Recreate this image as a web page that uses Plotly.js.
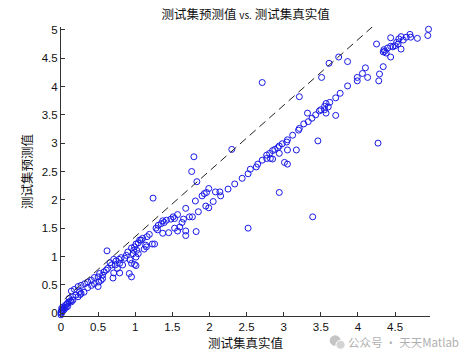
<!DOCTYPE html>
<html>
<head>
<meta charset="utf-8">
<script src="https://cdn.plot.ly/plotly-3.0.1.min.js"></script>
<style>html,body{margin:0;padding:0;background:#fff;}#chart{width:474px;height:354px;}</style>
</head>
<body>
<div id="chart"></div>
<script>
// 测试集真实值 (x) and 测试集预测值 (y)
const trueVals = [
0.00,0.00,0.00,0.01,0.02,0.02,0.03,0.01,0.04,0.05,0.06,0.07,0.08,0.09,0.09,0.11,0.11,0.13,0.14,0.14,
0.16,0.16,0.18,0.20,0.23,0.23,0.25,0.26,0.27,0.27,0.31,0.32,0.36,0.36,0.41,0.41,0.45,0.45,0.50,0.50,
0.51,0.52,0.54,0.56,0.56,0.58,0.61,0.62,0.63,0.66,0.68,0.70,0.71,0.71,0.73,0.74,0.76,0.78,0.79,0.79,
0.81,0.83,0.86,0.88,0.90,0.92,0.93,0.95,0.95,0.95,0.97,0.98,0.99,0.99,1.01,1.01,1.01,1.02,1.04,1.04,
1.06,1.08,1.10,1.12,1.14,1.15,1.16,1.19,1.23,1.24,1.26,1.28,1.30,1.31,1.35,1.37,1.37,1.39,1.42,1.45,
1.48,1.51,1.53,1.53,1.57,1.57,1.60,1.63,1.65,1.68,1.68,1.68,1.73,1.77,1.76,1.79,1.81,1.82,1.83,1.85,
1.90,1.93,1.96,1.95,1.99,1.99,2.05,2.08,2.14,2.15,2.25,2.30,2.34,2.44,2.52,2.52,2.55,2.63,2.65,2.71,
2.71,2.77,2.77,2.82,2.85,2.81,2.85,2.88,2.92,2.94,2.94,2.94,2.98,3.01,3.05,3.04,3.05,3.05,3.12,3.17,
3.20,3.21,3.21,3.27,3.32,3.33,3.38,3.39,3.43,3.46,3.48,3.50,3.51,3.55,3.55,3.57,3.57,3.60,3.62,3.61,
3.70,3.70,3.74,3.76,3.86,3.86,3.99,3.99,4.06,4.10,4.13,4.25,4.27,4.28,4.29,4.34,4.34,4.35,4.36,4.38,
4.40,4.44,4.44,4.44,4.47,4.50,4.52,4.54,4.55,4.58,4.58,4.61,4.65,4.70,4.71,4.80,4.94,4.95
];
const predVals = [
-0.03,0.00,0.02,0.05,0.07,0.03,0.11,0.09,0.06,0.10,0.14,0.10,0.16,0.12,0.18,0.20,0.26,0.22,0.20,0.39,
0.29,0.23,0.42,0.32,0.29,0.47,0.38,0.33,0.35,0.49,0.37,0.52,0.55,0.45,0.58,0.49,0.63,0.52,0.64,0.47,
0.55,0.70,0.58,0.67,0.61,0.73,0.76,1.10,0.79,0.89,0.85,0.62,0.71,0.95,0.85,0.92,0.79,0.95,0.71,0.88,
0.98,0.85,0.97,1.02,1.08,0.70,0.94,0.64,0.88,1.15,1.05,1.11,0.86,1.17,0.84,0.99,1.22,1.11,1.05,1.24,
1.29,1.29,1.32,1.13,1.20,1.17,1.35,1.39,1.22,2.03,1.22,1.50,1.47,1.55,1.58,1.41,1.63,1.60,1.64,1.42,
1.66,1.70,1.67,1.50,1.74,1.45,1.52,1.60,1.66,1.85,1.45,1.37,1.70,1.70,2.50,2.76,1.98,1.44,2.32,1.79,
2.07,2.11,2.13,1.89,1.86,2.20,1.97,2.14,2.14,2.07,2.19,2.89,2.28,2.38,2.46,1.50,2.54,2.58,2.63,2.70,
4.07,2.79,2.73,2.73,2.72,2.82,2.87,2.89,2.92,2.95,2.82,2.13,2.99,2.66,2.63,3.02,3.06,2.88,3.14,2.88,
3.23,3.26,3.82,3.34,3.53,3.38,3.44,1.70,3.50,3.04,3.57,3.59,4.16,3.59,3.65,3.70,3.53,3.64,3.72,4.41,
3.80,3.49,4.52,3.88,4.01,4.44,4.16,4.10,4.23,4.33,4.16,4.75,3.00,4.10,4.22,4.35,4.61,4.65,4.62,4.59,
4.68,4.52,4.71,4.86,4.70,4.72,4.78,4.75,4.84,4.66,4.88,4.82,4.87,4.92,4.87,4.85,4.90,5.01
];
// dashed reference line endpoints
const refX = [0.05, 4.20];
const refY = [0.25, 5.06];

const xTicks = [0, 0.5, 1, 1.5, 2, 2.5, 3, 3.5, 4, 4.5];
const xTickText = ['0','0.5','1','1.5','2','2.5','3','3.5','4','4.5'];
const yTicks = [0, 0.5, 1, 1.5, 2, 2.5, 3, 3.5, 4, 4.5, 5];
const yTickText = ['0','0.5','1','1.5','2','2.5','3','3.5','4','4.5','5'];

const cjk = '"Noto Sans CJK SC", "Liberation Sans", Arial, sans-serif';
const latin = '"Liberation Sans", Arial, sans-serif';

const traces = [
  {
    x: trueVals, y: predVals, type: 'scatter', mode: 'markers',
    marker: {symbol: 'circle-open', size: 6, color: 'rgb(25,25,230)', line: {width: 1, color: 'rgb(25,25,230)'}},
    hoverinfo: 'skip', cliponaxis: false
  },
  {
    x: refX, y: refY, type: 'scatter', mode: 'lines',
    line: {color: '#222', width: 1, dash: '8px,5px'},
    hoverinfo: 'skip'
  }
];

const axisCommon = {
  showgrid: false, zeroline: false, showline: true, linecolor: '#333', linewidth: 1,
  ticks: 'inside', ticklen: 4, tickcolor: '#333', tickwidth: 1,
  tickfont: {family: latin, size: 11.5, color: '#111'}
};

const layout = {
  width: 474, height: 354,
  margin: {l: 61, r: 44, t: 27, b: 38},
  paper_bgcolor: '#fff', plot_bgcolor: '#fff',
  showlegend: false,
  title: {
    text: '测试集预测值 <span style="font-size:10px">vs.</span> 测试集真实值',
    font: {family: cjk, size: 12.5, color: '#111'},
    x: 0.518, xanchor: 'center', y: 0.958, yanchor: 'middle'
  },
  xaxis: Object.assign({}, axisCommon, {
    range: [0, 4.97], tickmode: 'array', tickvals: xTicks, ticktext: xTickText,
    title: {text: '测试集真实值', font: {family: cjk, size: 12.5, color: '#111'}, standoff: 1}
  }),
  yaxis: Object.assign({}, axisCommon, {
    range: [-0.05, 5.05], tickmode: 'array', tickvals: yTicks, ticktext: yTickText,
    title: {text: '测试集预测值', font: {family: cjk, size: 12.5, color: '#111'}, standoff: 6}
  }),
  shapes: [
    {type: 'circle', xref: 'paper', yref: 'paper', x0: 0.728, x1: 0.758, y0: -0.103, y1: -0.067,
     fillcolor: '#c4c4c4', line: {width: 0}},
    {type: 'circle', xref: 'paper', yref: 'paper', x0: 0.745, x1: 0.770, y0: -0.115, y1: -0.084,
     fillcolor: '#d4d4d4', line: {color: '#fff', width: 1}}
  ],
  annotations: [
    {
      text: '公众号 · 天天Matlab', xref: 'paper', yref: 'paper', x: 1.083, y: -0.091,
      xanchor: 'right', yanchor: 'middle', showarrow: false,
      font: {family: cjk, size: 11.5, color: '#b0b0b0'}
    }
  ]
};

Plotly.newPlot('chart', traces, layout, {displayModeBar: false, staticPlot: true});
</script>
</body>
</html>
